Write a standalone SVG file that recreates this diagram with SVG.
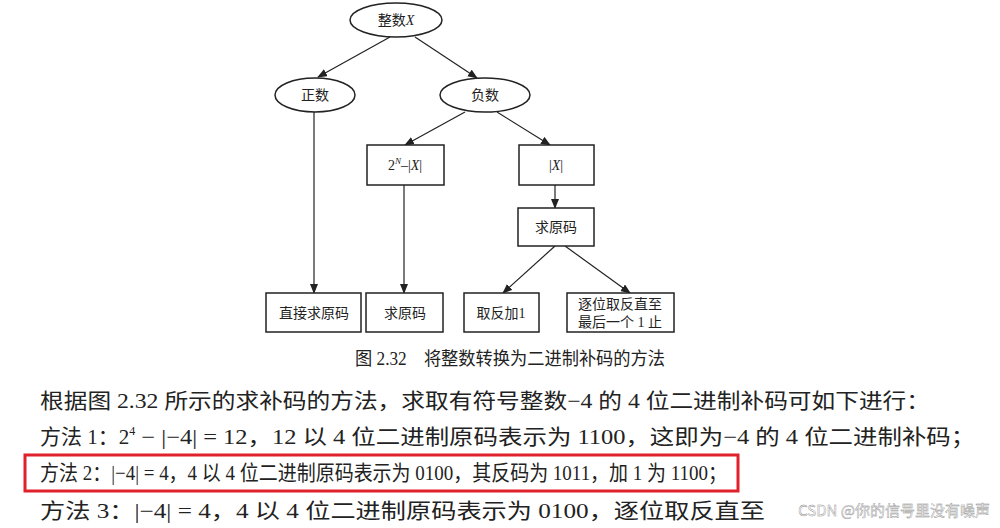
<svg xmlns="http://www.w3.org/2000/svg" width="1000" height="528" viewBox="0 0 1000 528">
<defs>
<marker id="a" markerWidth="10" markerHeight="8" refX="9" refY="4" orient="auto" markerUnits="userSpaceOnUse"><path d="M0,0 L10,4 L0,8 Z" fill="#222"/></marker>
<style>
.n{fill:#fff;stroke:#222;stroke-width:1.5}
.t{font-family:"Liberation Serif","Noto Sans CJK SC",serif;font-size:14px;fill:#222;text-anchor:middle}
.p{font-family:"Liberation Serif","Noto Sans CJK SC",serif;font-size:21px;fill:#222}
.c line{stroke:#222;stroke-width:1.2;marker-end:url(#a)}
</style>
</defs>
<rect width="1000" height="528" fill="#fff"/>
<g class="c">
<line x1="390" y1="37" x2="318" y2="77"/>
<line x1="415" y1="37" x2="477" y2="78"/>
<line x1="314" y1="112" x2="314" y2="293"/>
<line x1="465" y1="112" x2="405" y2="145"/>
<line x1="497" y1="112" x2="550" y2="145"/>
<line x1="404" y1="185" x2="404" y2="293"/>
<line x1="555" y1="185" x2="555" y2="208"/>
<line x1="555" y1="246" x2="503" y2="293"/>
<line x1="565" y1="246" x2="630" y2="293"/>
</g>
<g id="n1"><ellipse class="n" cx="396" cy="20" rx="46" ry="17"/><text class="t" x="396" y="25">整数<tspan font-style="italic">X</tspan></text></g>
<g id="n2"><ellipse class="n" cx="315" cy="95" rx="40" ry="17"/><text class="t" x="315" y="100">正数</text></g>
<g id="n3"><ellipse class="n" cx="485" cy="95" rx="45" ry="17"/><text class="t" x="485" y="100">负数</text></g>
<g id="n4"><rect class="n" x="367" y="145" width="77" height="40"/><text class="t" x="405" y="170">2<tspan dy="-6" font-size="9" font-style="italic">N</tspan><tspan dy="6">–|</tspan><tspan font-style="italic">X</tspan>|</text></g>
<g id="n5"><rect class="n" x="519" y="145" width="75" height="40"/><text class="t" x="556" y="170">|<tspan font-style="italic">X</tspan>|</text></g>
<g id="n6"><rect class="n" x="518" y="208" width="76" height="38"/><text class="t" x="556" y="232">求原码</text></g>
<g id="n7"><rect class="n" x="266" y="293" width="95" height="39"/><text class="t" x="314" y="318">直接求原码</text></g>
<g id="n8"><rect class="n" x="366" y="293" width="77" height="39"/><text class="t" x="405" y="318">求原码</text></g>
<g id="n9"><rect class="n" x="464" y="293" width="75" height="39"/><text class="t" x="501" y="318">取反加1</text></g>
<g id="n10"><rect class="n" x="567" y="293" width="107" height="39"/><text class="t" x="620" y="309">逐位取反直至</text><text class="t" x="620" y="327">最后一个 1 止</text></g>
<text x="355" y="365" font-family="Liberation Serif,Noto Sans CJK SC,serif" font-size="18" fill="#222" textLength="310" lengthAdjust="spacingAndGlyphs">图 2.32　将整数转换为二进制补码的方法</text>
<text class="p" x="40" y="408" textLength="890" lengthAdjust="spacingAndGlyphs">根据图 2.32 所示的求补码的方法，求取有符号整数−4 的 4 位二进制补码可如下进行：</text>
<text class="p" x="40" y="444">方法 1：2<tspan dy="-9" font-size="12">4</tspan><tspan dy="9" textLength="840" lengthAdjust="spacingAndGlyphs"> − |−4| = 12，12 以 4 位二进制原码表示为 1100，这即为−4 的 4 位二进制补码；</tspan></text>
<rect x="25" y="455" width="713" height="36" fill="none" stroke="#e0202a" stroke-width="3"/>
<text class="p" x="40" y="480" textLength="687" lengthAdjust="spacingAndGlyphs">方法 2：|−4| = 4，4 以 4 位二进制原码表示为 0100，其反码为 1011，加 1 为 1100；</text>
<text class="p" x="40" y="518" textLength="725" lengthAdjust="spacingAndGlyphs">方法 3：|−4| = 4，4 以 4 位二进制原码表示为 0100，逐位取反直至</text>
<text x="990" y="516" text-anchor="end" font-family="Noto Sans CJK SC,sans-serif" font-size="15" fill="#fff" fill-opacity="0.6" stroke="#888" stroke-width="0.4">CSDN @你的信号里没有噪声</text>
</svg>
